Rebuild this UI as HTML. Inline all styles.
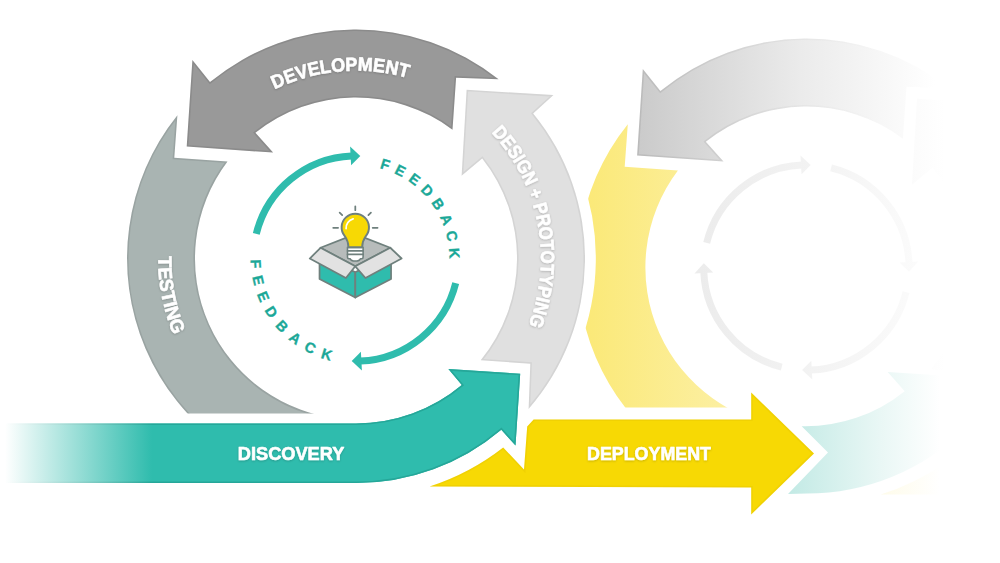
<!DOCTYPE html>
<html><head><meta charset="utf-8"><title>Cycle</title>
<style>html,body{margin:0;padding:0;background:#fff;}body{width:1000px;height:563px;overflow:hidden;font-family:"Liberation Sans",sans-serif;}svg{display:block;}</style>
</head><body>
<svg width="1000" height="563" viewBox="0 0 1000 563">
<defs>
<linearGradient id="gDisc" gradientUnits="userSpaceOnUse" x1="5" y1="0" x2="152" y2="0">
<stop offset="0" stop-color="#ffffff"/><stop offset="1" stop-color="#2fbcad"/></linearGradient>
<linearGradient id="gDiscE" gradientUnits="userSpaceOnUse" x1="5" y1="0" x2="152" y2="0">
<stop offset="0" stop-color="#ffffff"/><stop offset="1" stop-color="#25a799"/></linearGradient>
<linearGradient id="gDev2E" gradientUnits="userSpaceOnUse" x1="636" y1="0" x2="880" y2="0">
<stop offset="0" stop-color="#000" stop-opacity="0.08"/><stop offset="1" stop-color="#000" stop-opacity="0"/></linearGradient>
<linearGradient id="gDev2" gradientUnits="userSpaceOnUse" x1="636" y1="0" x2="935" y2="0">
<stop offset="0" stop-color="#cacaca"/><stop offset="0.55" stop-color="#ebebeb"/><stop offset="1" stop-color="#ffffff"/></linearGradient>
<linearGradient id="gYel2" gradientUnits="userSpaceOnUse" x1="590" y1="0" x2="740" y2="0">
<stop offset="0" stop-color="#fbe979"/><stop offset="1" stop-color="#fcf0a6"/></linearGradient>
<linearGradient id="gTeal2" gradientUnits="userSpaceOnUse" x1="790" y1="0" x2="940" y2="0">
<stop offset="0" stop-color="#c3eae5"/><stop offset="0.6" stop-color="#e9f7f5"/><stop offset="1" stop-color="#ffffff"/></linearGradient>
<linearGradient id="gFb2" gradientUnits="userSpaceOnUse" x1="700" y1="0" x2="930" y2="0">
<stop offset="0" stop-color="#ececec"/><stop offset="0.5" stop-color="#f3f3f3"/><stop offset="1" stop-color="#fcfcfc"/></linearGradient>
<linearGradient id="gDes2" gradientUnits="userSpaceOnUse" x1="900" y1="0" x2="945" y2="0">
<stop offset="0" stop-color="#fafafa"/><stop offset="1" stop-color="#ffffff"/></linearGradient>
<linearGradient id="gDep2" gradientUnits="userSpaceOnUse" x1="870" y1="0" x2="940" y2="0">
<stop offset="0" stop-color="#fefbe6"/><stop offset="1" stop-color="#ffffff"/></linearGradient>
<clipPath id="cTest"><rect x="0" y="0" width="1000" height="413.6"/></clipPath>
<clipPath id="cTest2"><rect x="0" y="0" width="1000" height="407.5"/></clipPath>
<filter id="ts" x="-10%" y="-30%" width="120%" height="160%"><feDropShadow dx="0" dy="0.8" stdDeviation="0.9" flood-color="#000" flood-opacity="0.22"/></filter>
<path id="pDev" d="M274.6,89.3 A187.8,187.8 0 0 1 449.9,95.9"/>
<path id="pDes" d="M491.5,132.6 A185,185 0 0 1 497.7,377.4"/>
<path id="pTes" d="M158.2,256.4 A197.8,197.8 0 0 0 228.9,410.0"/>
<path id="pFb1" d="M379.7,168.1 A93.5,93.5 0 0 1 443.9,290.5"/>
<path id="pFb2" d="M250.7,259.8 A105.3,105.3 0 0 0 374.3,362.2"/>
</defs>
<rect width="1000" height="563" fill="#ffffff"/>
<g clip-path="url(#cTest2)"><path d="M627.8,124.2 A229.0,229.0 0 0 0 786.4,495.6 L792.4,427.9 A161.0,161.0 0 0 1 677.9,170.5 L624.7,166.8 Z" fill="url(#gYel2)"/></g>
<path d="M979.0,418.0 A229.0,229.0 0 0 0 983.6,122.4 L1003.9,104.1 L917.0,98.7 L912.0,184.7 L932.6,167.5 A161.0,161.0 0 0 1 931.1,369.3 L980.7,372.7 Z" fill="url(#gDes2)"/>
<clipPath id="kdev2"><path d="M949.0,88.3 A229.0,229.0 0 0 0 660.4,91.1 L642.8,69.0 L637.1,155.6 L723.5,161.6 L705.8,141.8 A161.0,161.0 0 0 1 902.9,138.7 L906.5,86.7 Z"/></clipPath><path d="M949.0,88.3 A229.0,229.0 0 0 0 660.4,91.1 L642.8,69.0 L637.1,155.6 L723.5,161.6 L705.8,141.8 A161.0,161.0 0 0 1 902.9,138.7 L906.5,86.7 Z" fill="url(#gDev2)"/><path d="M949.0,88.3 A229.0,229.0 0 0 0 660.4,91.1 L642.8,69.0 L637.1,155.6 L723.5,161.6 L705.8,141.8 A161.0,161.0 0 0 1 902.9,138.7 L906.5,86.7 Z" fill="none" stroke="url(#gDev2E)" stroke-width="3.2" clip-path="url(#kdev2)"/>
<path d="M880.7,494.5 A239.5,239.5 0 0 0 945.0,462.9 L960.0,462.0 L960.0,494.5 Z" fill="url(#gDep2)"/>
<path d="M801.7,426.3 A158.5,158.5 0 0 0 904.7,391.2 L887.7,372.0 L965.0,377.0 L965.0,429.0 A226.0,226.0 0 0 1 806.9,493.5 L788.0,494.0 L828.0,452.6 Z" fill="url(#gTeal2)"/>
<path d="M706.7,242.8 A102.7,102.7 0 0 1 801.9,164.9" fill="none" stroke="url(#gFb2)" stroke-width="7"/><path d="M800.5,155.6 L810.7,164.9 L801.5,174.3 Z" fill="url(#gFb2)"/>
<path d="M831.1,167.8 A102.7,102.7 0 0 1 909.0,263.0" fill="none" stroke="url(#gFb2)" stroke-width="7"/><path d="M918.3,261.6 L909.0,271.8 L899.6,262.6 Z" fill="url(#gFb2)"/>
<path d="M906.1,292.2 A102.7,102.7 0 0 1 810.9,370.1" fill="none" stroke="url(#gFb2)" stroke-width="7"/><path d="M812.3,379.4 L802.1,370.1 L811.3,360.7 Z" fill="url(#gFb2)"/>
<path d="M781.7,367.2 A102.7,102.7 0 0 1 703.8,272.0" fill="none" stroke="url(#gFb2)" stroke-width="7"/><path d="M694.5,273.4 L703.8,263.2 L713.2,272.4 Z" fill="url(#gFb2)"/>
<path d="M528.6,409.0 A229.0,229.0 0 0 0 533.2,113.4 L553.5,95.1 L466.6,89.7 L461.6,175.7 L482.2,158.5 A161.0,161.0 0 0 1 480.7,360.3 L530.3,363.7 Z" fill="#fff" stroke="#fff" stroke-width="21.6" stroke-linejoin="miter"/>
<clipPath id="kdep"><path d="M429.6,486.4 A239.5,239.5 0 0 0 503.2,447.4 L524.0,469.6 L527.2,426.4 L533.6,419.5 L751.2,419.5 L751.2,392.5 L814.0,453.5 L751.2,514.5 L751.2,487.5 Z"/></clipPath><path d="M429.6,486.4 A239.5,239.5 0 0 0 503.2,447.4 L524.0,469.6 L527.2,426.4 L533.6,419.5 L751.2,419.5 L751.2,392.5 L814.0,453.5 L751.2,514.5 L751.2,487.5 Z" fill="#f7d904"/><path d="M429.6,486.4 A239.5,239.5 0 0 0 503.2,447.4 L524.0,469.6 L527.2,426.4 L533.6,419.5 L751.2,419.5 L751.2,392.5 L814.0,453.5 L751.2,514.5 L751.2,487.5 Z" fill="none" stroke="#b89000" stroke-opacity="0.10" stroke-width="3.2" clip-path="url(#kdep)"/>
<clipPath id="ktes"><path d="M177.4,115.2 A229.0,229.0 0 0 0 336.0,486.6 L342.0,418.9 A161.0,161.0 0 0 1 227.5,161.5 L174.3,157.8 Z"/></clipPath><g clip-path="url(#cTest)"><path d="M177.4,115.2 A229.0,229.0 0 0 0 336.0,486.6 L342.0,418.9 A161.0,161.0 0 0 1 227.5,161.5 L174.3,157.8 Z" fill="#a9b4b2"/><path d="M177.4,115.2 A229.0,229.0 0 0 0 336.0,486.6 L342.0,418.9 A161.0,161.0 0 0 1 227.5,161.5 L174.3,157.8 Z" fill="none" stroke="#000" stroke-opacity="0.09" stroke-width="3.2" clip-path="url(#ktes)"/></g>
<clipPath id="kdev"><path d="M498.6,79.3 A229.0,229.0 0 0 0 210.0,82.1 L192.4,60.0 L186.7,146.6 L273.1,152.6 L255.4,132.8 A161.0,161.0 0 0 1 452.5,129.7 L456.1,77.7 Z"/></clipPath><path d="M498.6,79.3 A229.0,229.0 0 0 0 210.0,82.1 L192.4,60.0 L186.7,146.6 L273.1,152.6 L255.4,132.8 A161.0,161.0 0 0 1 452.5,129.7 L456.1,77.7 Z" fill="#999999"/><path d="M498.6,79.3 A229.0,229.0 0 0 0 210.0,82.1 L192.4,60.0 L186.7,146.6 L273.1,152.6 L255.4,132.8 A161.0,161.0 0 0 1 452.5,129.7 L456.1,77.7 Z" fill="none" stroke="#000" stroke-opacity="0.09" stroke-width="3.2" clip-path="url(#kdev)"/>
<clipPath id="kdes"><path d="M528.6,409.0 A229.0,229.0 0 0 0 533.2,113.4 L553.5,95.1 L466.6,89.7 L461.6,175.7 L482.2,158.5 A161.0,161.0 0 0 1 480.7,360.3 L530.3,363.7 Z"/></clipPath><path d="M528.6,409.0 A229.0,229.0 0 0 0 533.2,113.4 L553.5,95.1 L466.6,89.7 L461.6,175.7 L482.2,158.5 A161.0,161.0 0 0 1 480.7,360.3 L530.3,363.7 Z" fill="#e0e0e0"/><path d="M528.6,409.0 A229.0,229.0 0 0 0 533.2,113.4 L553.5,95.1 L466.6,89.7 L461.6,175.7 L482.2,158.5 A161.0,161.0 0 0 1 480.7,360.3 L530.3,363.7 Z" fill="none" stroke="#000" stroke-opacity="0.05" stroke-width="3.2" clip-path="url(#kdes)"/>
<clipPath id="kdis"><path d="M0.0,423.5 L356.0,423.5 A165.0,165.0 0 0 0 461.8,385.1 L448.4,369.1 L520.2,373.7 L515.5,445.6 L501.3,429.8 A224.6,224.6 0 0 1 356.0,483.1 L0.0,483.1 Z"/></clipPath><path d="M0.0,423.5 L356.0,423.5 A165.0,165.0 0 0 0 461.8,385.1 L448.4,369.1 L520.2,373.7 L515.5,445.6 L501.3,429.8 A224.6,224.6 0 0 1 356.0,483.1 L0.0,483.1 Z" fill="url(#gDisc)"/><path d="M0.0,423.5 L356.0,423.5 A165.0,165.0 0 0 0 461.8,385.1 L448.4,369.1 L520.2,373.7 L515.5,445.6 L501.3,429.8 A224.6,224.6 0 0 1 356.0,483.1 L0.0,483.1 Z" fill="none" stroke="url(#gDiscE)" stroke-width="3.2" clip-path="url(#kdis)"/>
<path d="M256.3,233.8 A102.7,102.7 0 0 1 351.5,155.9" fill="none" stroke="#2fbcad" stroke-width="7"/><path d="M350.1,146.6 L360.3,155.9 L351.1,165.3 Z" fill="#2fbcad"/>
<path d="M455.7,283.2 A102.7,102.7 0 0 1 360.5,361.1" fill="none" stroke="#2fbcad" stroke-width="7"/><path d="M361.9,370.4 L351.7,361.1 L360.9,351.7 Z" fill="#2fbcad"/>
<g font-family="'Liberation Sans', sans-serif" font-weight="bold" font-size="19" fill="#ffffff" stroke="#ffffff" stroke-width="0.6" stroke-linejoin="round" filter="url(#ts)">
<text><textPath href="#pDev" textLength="136.5" lengthAdjust="spacingAndGlyphs">DEVELOPMENT</textPath></text>
<text><textPath href="#pDes" textLength="206.5" lengthAdjust="spacingAndGlyphs">DESIGN + PROTOTYPING</textPath></text>
<text><textPath href="#pTes" textLength="80.5" lengthAdjust="spacingAndGlyphs">TESTING</textPath></text>
<text x="237.8" y="459.9" textLength="106.5" lengthAdjust="spacingAndGlyphs">DISCOVERY</text>
<text x="587" y="460.1" textLength="124" lengthAdjust="spacingAndGlyphs">DEPLOYMENT</text>
</g>
<g font-family="'Liberation Sans', sans-serif" font-weight="bold" font-size="14.5" fill="#1ba898" stroke="#1ba898" stroke-width="0.35">
<text><textPath href="#pFb1" textLength="123" lengthAdjust="spacing">FEEDBACK</textPath></text>
<text><textPath href="#pFb2" textLength="138" lengthAdjust="spacing">FEEDBACK</textPath></text>
</g>
<g transform="translate(300,195) scale(0.1954)" stroke-linejoin="round" stroke-linecap="round">
<path d="M105,270 L283,200 L462,270 L283,365 Z" fill="#b7bcbb" stroke="#6f807d" stroke-width="9"/>
<path d="M100,300 L283,395 L283,525 L100,430 Z" fill="#2fbcad" stroke="#6f807d" stroke-width="9"/>
<path d="M466,300 L283,395 L283,525 L466,430 Z" fill="#2fbcad" stroke="#6f807d" stroke-width="9"/>
<path d="M105,270 L283,365 L235,425 L50,325 Z" fill="#e2e2e2" stroke="#6f807d" stroke-width="9"/>
<path d="M462,270 L283,365 L335,425 L520,325 Z" fill="#e2e2e2" stroke="#6f807d" stroke-width="9"/>
<path d="M243,268 H323 V318 Q323,326 315,326 H309 Q305,338 283,338 Q261,338 257,326 H251 Q243,326 243,318 Z" fill="#ffffff" stroke="#6f807d" stroke-width="8"/>
<path d="M243,286 H323 M243,304 H323" fill="none" stroke="#6f807d" stroke-width="8"/>
<path d="M248,267 Q248,238 229,210 A70,70 0 1 1 337,210 Q318,238 318,267 Z" fill="#f7d904" stroke="#6f807d" stroke-width="10"/>
<path d="M236,172 A48,48 0 0 1 272,122" fill="none" stroke="#ffffff" stroke-width="9"/>
<path d="M283,58 V78 M203,90 L216,103 M363,90 L350,103 M170,168 H195 M372,168 H397" fill="none" stroke="#6f807d" stroke-width="9"/>
</g>
</svg>
</body></html>
